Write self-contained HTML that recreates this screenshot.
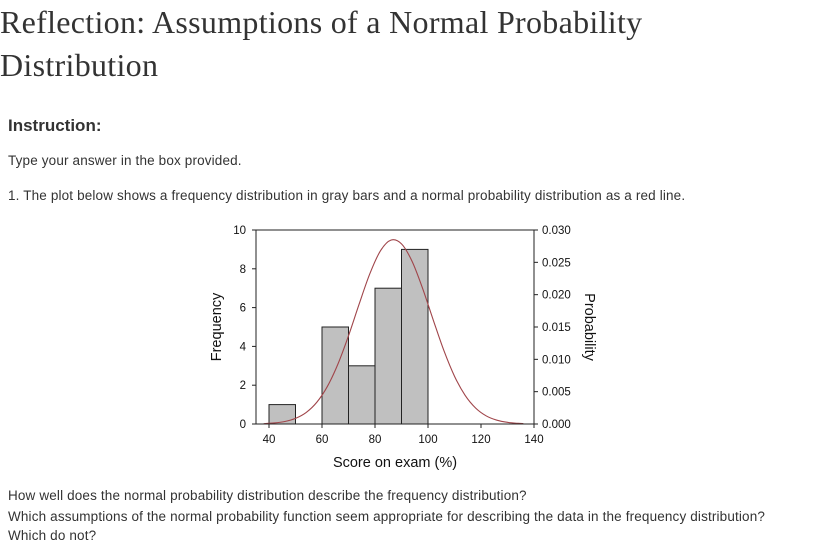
<!DOCTYPE html>
<html><head><meta charset="utf-8"><style>
body{margin:0;width:836px;height:556px;background:#fff;overflow:hidden;font-family:"Liberation Sans",sans-serif;color:#333;position:relative}
.t{position:absolute;white-space:nowrap;font-size:13.5px;letter-spacing:0.15px}
h1{position:absolute;left:0;top:1px;margin:0;font-family:"Liberation Serif",serif;font-weight:normal;font-size:32px;line-height:43px;color:#333;letter-spacing:0.3px}
</style></head><body>
<h1>Reflection: Assumptions of a Normal Probability<br>Distribution</h1>
<div class="t" style="left:8px;top:116px;font-size:17px;font-weight:bold;color:#333;letter-spacing:0">Instruction:</div>
<div class="t" style="left:8px;top:153px">Type your answer in the box provided.</div>
<div class="t" style="left:8px;top:188px">1. The plot below shows a frequency distribution in gray bars and a normal probability distribution as a red line.</div>
<svg id="chart" width="836" height="480" style="position:absolute;left:0;top:0" font-family="Liberation Sans, sans-serif"></svg>
<div class="t" style="left:8px;top:488px">How well does the normal probability distribution describe the frequency distribution?</div>
<div class="t" style="left:8px;top:509px">Which assumptions of the normal probability function seem appropriate for describing the data in the frequency distribution?</div>
<div class="t" style="left:8px;top:528px">Which do not?</div>
<script>
const binStarts=[40,50,60,70,80,90];
const frequencies=[1,0,5,3,7,9];
const xTicks=[40,60,80,100,120,140];
const yTicks=[0,2,4,6,8,10];
const pTicks=[0,0.005,0.010,0.015,0.020,0.025,0.030];
const curveX=[38,42,46,50,54,58,62,66,70,74,78,82,86,90,94,98,102,106,110,114,118,122,126,130,134,136];
const curveP=[0.00006,0.00016,0.00039,0.00087,0.00177,0.00334,0.00579,0.00926,0.01364,0.01852,0.02318,0.02674,0.02843,0.02785,0.02515,0.02093,0.01606,0.01135,0.00739,0.00444,0.00246,0.00125,0.00059,0.00026,0.0001,0.00006];
const L=256,R=534,T=230,B=424;
const X=v=>269+(v-40)*(534-269)/100;
const Y=v=>B-v*(B-T)/10;
const P=v=>B-v*(B-T)/0.03;
const svg=document.getElementById('chart');
const NS='http://www.w3.org/2000/svg';
function mk(tag,at){const e=document.createElementNS(NS,tag);for(const k in at)e.setAttribute(k,at[k]);svg.appendChild(e);return e;}
binStarts.forEach((b,i)=>{if(frequencies[i]<=0)return;
const r=mk('rect',{x:X(b),y:Y(frequencies[i]),width:X(b+10)-X(b),height:B-Y(frequencies[i]),fill:'#c0c0c0',stroke:'#222','stroke-width':1});

});
const pts=curveX.map((x,i)=>[X(x),P(curveP[i])]);
let d='M'+pts[0][0]+','+pts[0][1];
for(let i=0;i<pts.length-1;i++){const p0=pts[i-1]||pts[i],p1=pts[i],p2=pts[i+1],p3=pts[i+2]||p2;
d+=` C${p1[0]+(p2[0]-p0[0])/6},${p1[1]+(p2[1]-p0[1])/6} ${p2[0]-(p3[0]-p1[0])/6},${p2[1]-(p3[1]-p1[1])/6} ${p2[0]},${p2[1]}`;}
const pl=mk('path',{d:d,fill:'none',stroke:'#a0454a','stroke-width':1.1});


const fr=mk('rect',{x:L,y:T,width:R-L,height:B-T,fill:'none',stroke:'#222','stroke-width':1});


xTicks.forEach(v=>{mk('line',{x1:X(v),x2:X(v),y1:B,y2:B+4,stroke:'#222'});
const t=mk('text',{x:X(v),y:B+19,'font-size':11.5,'text-anchor':'middle',fill:'#111'});t.textContent=v;

});
yTicks.forEach(v=>{mk('line',{x1:L-4,x2:L,y1:Y(v),y2:Y(v),stroke:'#222'});
const t=mk('text',{x:L-10,y:Y(v)+4,'font-size':11.5,'text-anchor':'end',fill:'#111'});t.textContent=v;

});
pTicks.forEach(v=>{mk('line',{x1:R,x2:R+4,y1:P(v),y2:P(v),stroke:'#222'});
const t=mk('text',{x:R+8,y:P(v)+4,'font-size':11.5,fill:'#111'});t.textContent=v.toFixed(3);

});
const xt=mk('text',{x:395,y:467,'font-size':14.5,'text-anchor':'middle',fill:'#111'});xt.textContent='Score on exam (%)';


const yt=mk('text',{x:0,y:0,'font-size':14.5,'text-anchor':'middle',fill:'#111',transform:'translate(221,327) rotate(-90)'});yt.textContent='Frequency';


const pt=mk('text',{x:0,y:0,'font-size':14.5,'text-anchor':'middle',fill:'#111',transform:'translate(585,327) rotate(90)'});pt.textContent='Probability';


</script>
</body></html>
